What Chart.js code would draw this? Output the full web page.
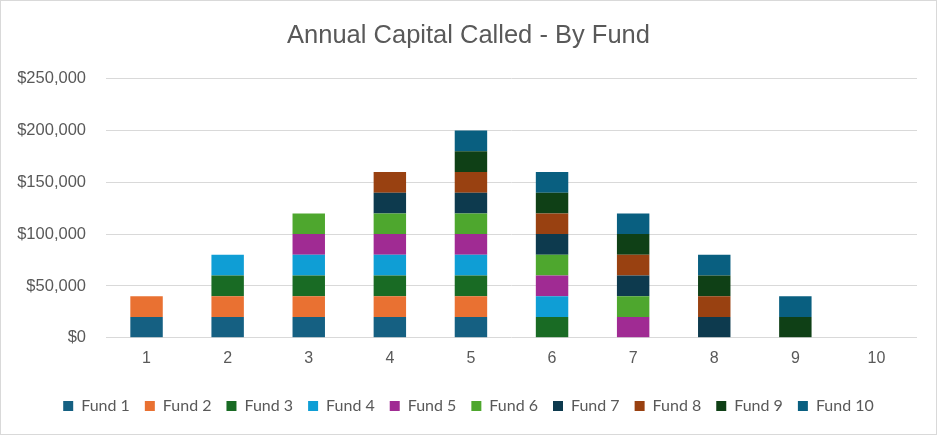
<!DOCTYPE html>
<html>
<head>
<meta charset="utf-8">
<script src="https://cdn.jsdelivr.net/npm/chart.js@4/dist/chart.umd.min.js"></script>
<style>
  html, body { margin: 0; padding: 0; background: #fff; }
  #wrap { width: 937px; height: 435px; box-sizing: border-box; border: 1px solid #d9d9d9; }
</style>
</head>
<body>
<div id="wrap"><canvas id="chart" width="935" height="433"></canvas></div>
<script>
// dane
const years = ['1', '2', '3', '4', '5', '6', '7', '8', '9', '10'];
const fund1  = [20000, 20000, 20000, 20000, 20000, 0, 0, 0, 0, 0];
const fund2  = [20000, 20000, 20000, 20000, 20000, 0, 0, 0, 0, 0];
const fund3  = [0, 20000, 20000, 20000, 20000, 20000, 0, 0, 0, 0];
const fund4  = [0, 20000, 20000, 20000, 20000, 20000, 0, 0, 0, 0];
const fund5  = [0, 0, 20000, 20000, 20000, 20000, 20000, 0, 0, 0];
const fund6  = [0, 0, 20000, 20000, 20000, 20000, 20000, 0, 0, 0];
const fund7  = [0, 0, 0, 20000, 20000, 20000, 20000, 20000, 0, 0];
const fund8  = [0, 0, 0, 20000, 20000, 20000, 20000, 20000, 0, 0];
const fund9  = [0, 0, 0, 0, 20000, 20000, 20000, 20000, 20000, 0];
const fund10 = [0, 0, 0, 0, 20000, 20000, 20000, 20000, 20000, 0];
const yTicks = [0, 50000, 100000, 150000, 200000, 250000];

const series = [
    { label: 'Fund 1',  data: fund1,  color: '#156082' },
    { label: 'Fund 2',  data: fund2,  color: '#E97132' },
    { label: 'Fund 3',  data: fund3,  color: '#196B24' },
    { label: 'Fund 4',  data: fund4,  color: '#0F9ED5' },
    { label: 'Fund 5',  data: fund5,  color: '#A02B93' },
    { label: 'Fund 6',  data: fund6,  color: '#4EA72E' },
    { label: 'Fund 7',  data: fund7,  color: '#0D3A4E' },
    { label: 'Fund 8',  data: fund8,  color: '#994111' },
    { label: 'Fund 9',  data: fund9,  color: '#0F4016' },
    { label: 'Fund 10', data: fund10, color: '#095F80' }
];

const textColor = '#595959';

const chart = new Chart(document.getElementById('chart').getContext('2d'), {
    type: 'bar',
    data: {
        labels: years,
        datasets: series.map(s => ({
            label: s.label,
            data: s.data,
            backgroundColor: s.color,
            borderWidth: 0,
            barPercentage: 0.4,
            categoryPercentage: 1.0
        }))
    },
    options: {
        responsive: false,
        animation: false,
        layout: { padding: { left: 0, right: 0, top: 0, bottom: 10 } },
        plugins: {
            title: {
                display: true,
                text: 'Annual Capital Called - By Fund',
                color: textColor,
                font: { family: '"Liberation Sans", Arial', size: 25.5, weight: 'normal' },
                padding: { top: 20, bottom: 27 }
            },
            legend: {
                position: 'bottom',
                labels: {
                    color: textColor,
                    boxWidth: 10,
                    boxHeight: 10,
                    padding: 15,
                    font: { family: 'Lato, "Noto Sans", Arial', size: 16 }
                }
            },
            tooltip: { enabled: false }
        },
        scales: {
            x: {
                stacked: true,
                grid: { display: false, drawTicks: false },
                border: { display: false },
                afterFit: s => { s.height = s.height + 4; },
                ticks: {
                    color: textColor,
                    padding: 11,
                    font: { family: '"Liberation Sans", Arial', size: 16 }
                }
            },
            y: {
                stacked: true,
                min: 0,
                max: 250000,
                afterBuildTicks: s => { s.ticks = yTicks.map(v => ({ value: v })); },
                afterFit: s => { s.width = 105; },
                grid: { color: '#d9d9d9', lineWidth: 1, drawTicks: false },
                border: { display: false },
                ticks: {
                    color: textColor,
                    padding: 20,
                    font: { family: '"Liberation Sans", Arial', size: 16.5 },
                    callback: v => '$' + v.toLocaleString('en-US')
                }
            },
            // pusta oś po prawej, tylko żeby zostawić margines jak w oryginale
            yRight: {
                position: 'right',
                display: true,
                grid: { display: false, drawTicks: false },
                border: { display: false },
                ticks: { display: false },
                afterFit: s => { s.width = 19; }
            }
        }
    }
});
</script>
</body>
</html>
